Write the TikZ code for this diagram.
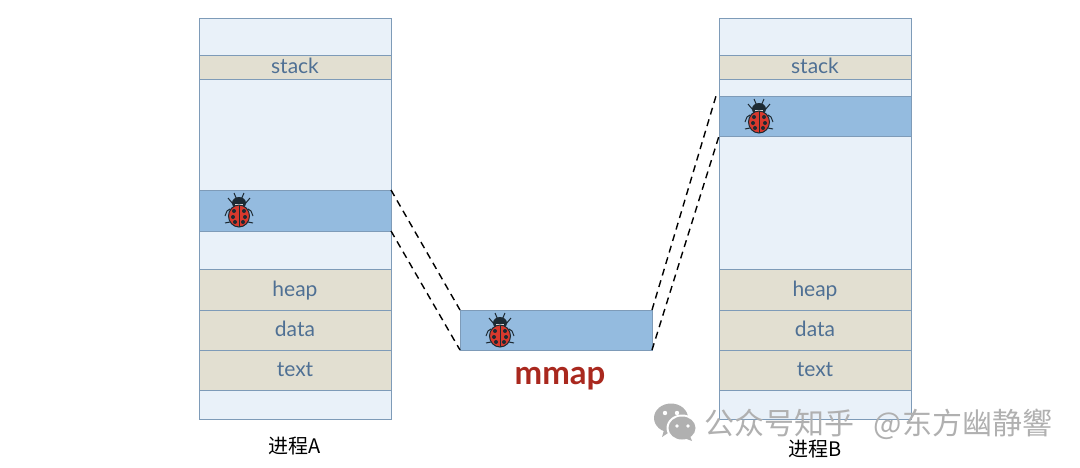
\documentclass[tikz,border=0pt]{standalone}
\usepackage{fontspec}
\setmainfont{Lato}
\newfontfamily\cjk{Noto Sans CJK SC}
\usepackage{tikz}
\usetikzlibrary{positioning}
\definecolor{cellblank}{HTML}{E9F1F9}
\definecolor{cellused}{HTML}{E2DFD1}
\definecolor{cellmap}{HTML}{94BBDF}
\definecolor{cellline}{HTML}{7E9BB8}
\definecolor{celltext}{HTML}{4F7094}
\definecolor{mapred}{HTML}{A9281E}
\definecolor{markgray}{HTML}{B0B0B0}
\definecolor{bugred}{HTML}{D8392D}
\definecolor{bugdark}{HTML}{1D2A33}
\tikzset{
  cell/.style={draw=cellline,line width=1pt,minimum width=192pt,inner sep=0pt,outer sep=0pt,
    text=celltext,text height=15pt,text depth=2pt,font=\fontsize{21}{24}\selectfont},
  blank/.style={cell,fill=cellblank},
  used/.style={cell,fill=cellused},
  mapped/.style={cell,fill=cellmap},
  link/.style={line width=1.4pt,dash pattern=on 7pt off 5pt},
  title/.style={font=\cjk\fontsize{20}{24}\selectfont,inner sep=0pt},
  pics/ladybug/.style={code={
    % legs and feelers
    \draw[line width=1pt,bugdark] (-2,-11) -- (-5,-18) (2,-11) -- (5,-18)
      (-6,-7) -- (-11,-13) (6,-7) -- (11,-13)
      (-9,-2) -- (-12,0) -- (-14,5) (9,-2) -- (12,0) -- (14,5)
      (-9,11) -- (-14,12) (9,11) -- (14,12);
    \fill[bugdark] (0,-8) ellipse (7pt and 6pt);
    \fill[black!15] (-4,-7) rectangle (4,-5.5);
    \fill[bugred,draw=bugdark,line width=1pt] (0,5) ellipse (10.5pt and 11pt);
    \draw[bugdark,line width=1pt] (0,-6) -- (0,16);
    \foreach \spotx/\spoty in {-5/0,5/0,-6/6,6/6,-4/11,4/11}
      \fill[bugdark] (\spotx,\spoty) circle (2pt);
  }}
}
\begin{document}
\begin{tikzpicture}[x=1pt,y=-1pt,node distance=0pt]
\useasboundingbox (0,0) rectangle (1080,467);
% process A
\node[blank,minimum height=37pt,anchor=north west] (atop) at (199,18) {};
\node[used,minimum height=24pt,below=of atop] (astack) {stack};
\node[blank,minimum height=111pt,below=of astack] (agap) {};
\node[mapped,minimum height=41pt,below=of agap] (amap) {};
\node[blank,minimum height=38pt,below=of amap] (afree) {};
\node[used,minimum height=41pt,below=of afree] (aheap) {heap};
\node[used,minimum height=40pt,below=of aheap] (adata) {data};
\node[used,minimum height=40pt,below=of adata] (atext) {text};
\node[blank,minimum height=29pt,below=of atext] (abot) {};
\node[title] (aname) at (295,446) {进程A};
% process B
\node[blank,minimum height=37pt,anchor=north west] (btop) at (719,18) {};
\node[used,minimum height=24pt,below=of btop] (bstack) {stack};
\node[blank,minimum height=17pt,below=of bstack] (bgap) {};
\node[mapped,minimum height=40pt,below=of bgap] (bmap) {};
\node[blank,minimum height=133pt,below=of bmap] (bfree) {};
\node[used,minimum height=41pt,below=of bfree] (bheap) {heap};
\node[used,minimum height=40pt,below=of bheap] (bdata) {data};
\node[used,minimum height=40pt,below=of bdata] (btext) {text};
\node[blank,minimum height=29pt,below=of btext] (bbot) {};
\node[title] (bname) at (815,449) {进程B};
% shared region
\node[mapped,minimum height=40pt,anchor=north west] (shared) at (460,310) {};
\node[anchor=base,text=mapred,inner sep=0pt,font=\bfseries\fontsize{33}{36}\selectfont] (maplabel) at (560,384) {mmap};
% dashed links
\coordinate (bfree1) at (716,96);
\draw[link] (amap.north east) -- (shared.north west);
\draw[link] (amap.south east) -- (shared.south west);
\draw[link] (shared.north east) -- (bfree1);
\draw[link] (shared.south east) -- (bmap.south west);
% bugs
\pic at (239,211) {ladybug};
\pic at (759,117) {ladybug};
\pic at (500,331) {ladybug};
% watermark
\fill[markgray] (671,418) ellipse (17pt and 14.5pt);
\fill[markgray] (664,430) -- (662,437) -- (671,431) -- cycle;
\fill[white] (682,428) ellipse (15.5pt and 13.5pt);
\fill[markgray] (682,428) ellipse (13.5pt and 11.5pt);
\fill[markgray] (690,436) -- (692,441) -- (684,438) -- cycle;
\fill[white] (665,413) circle (2.2pt) (677,413) circle (2.2pt) (677,426) circle (1.8pt) (688,426) circle (1.8pt);
\node[anchor=west,inner sep=0pt,text=markgray,font=\cjk\fontsize{30}{34}\selectfont] (wmark) at (704,424) {公众号知乎\hspace{13pt} @东方幽静響};
\end{tikzpicture}
\end{document}
